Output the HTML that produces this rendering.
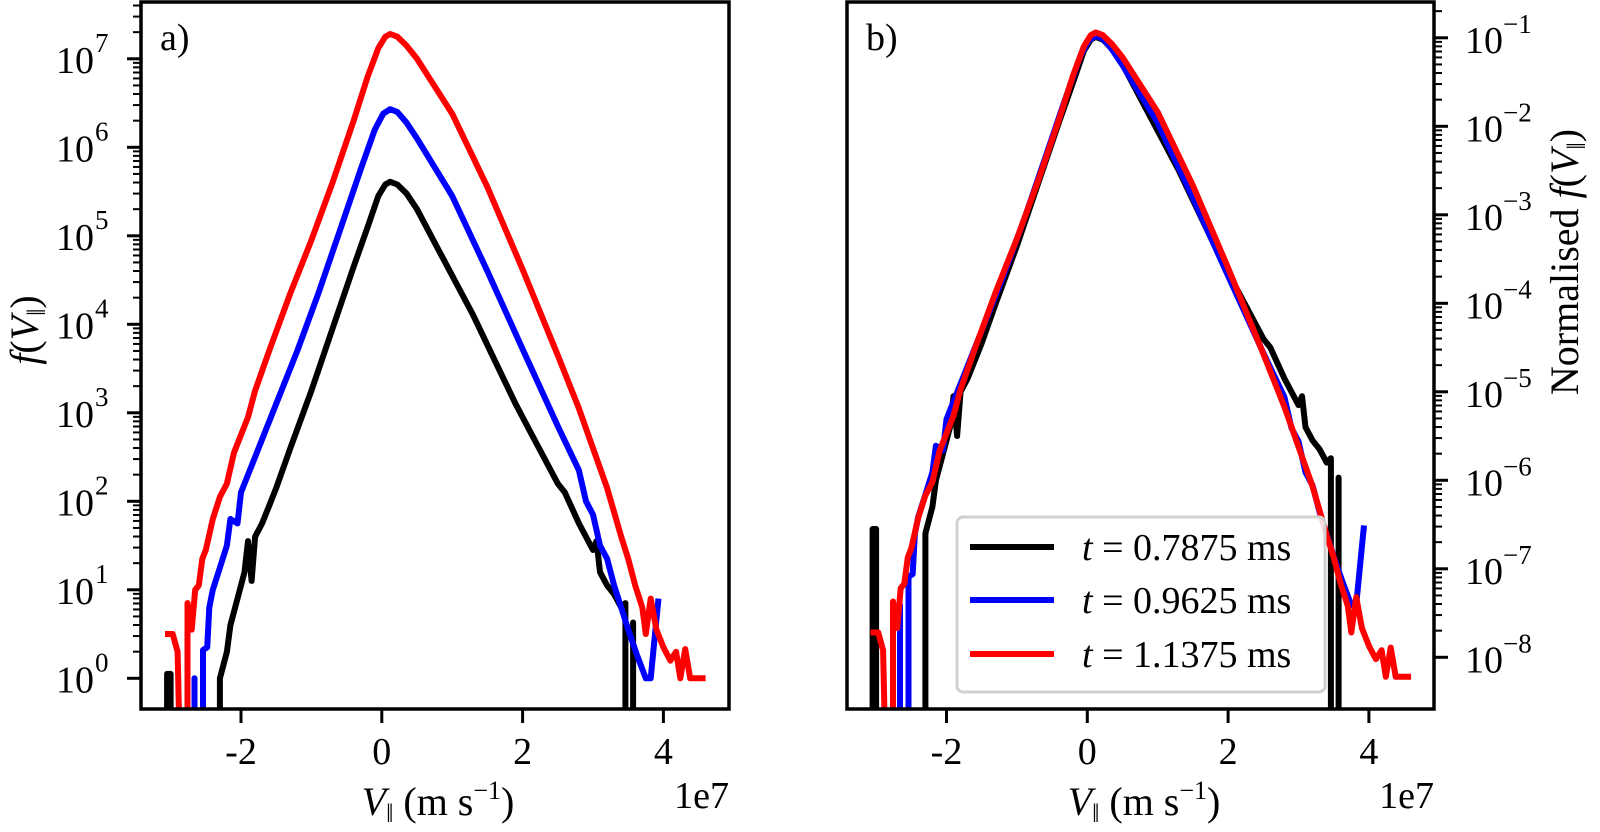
<!DOCTYPE html>
<html><head><meta charset="utf-8"><style>
html,body{margin:0;padding:0;background:#fff;}
svg{display:block;font-family:"Liberation Serif","DejaVu Serif",serif;}
</style></head><body>
<svg id="s" width="1600" height="832" xmlns="http://www.w3.org/2000/svg"></svg>
<script>
const S=document.getElementById('s');let h='';
const B=null;
const black=[[-3.05,B],[-3.05,0.05],[-3.0,0.05],[-3.0,B],null,
[-2.3,B],[-2.3,0],[-2.2,0.3],[-2.15,0.6],[-2.05,0.9],[-1.95,1.2],[-1.9,1.55],[-1.85,1.1],[-1.8,1.6],[-1.7,1.75],[-1.6,1.95],[-1.5,2.15],[-1.3,2.6],[-1.0,3.25],[-0.7,3.95],[-0.4,4.65],[-0.2,5.1],[-0.05,5.45],[0.05,5.58],[0.12,5.61],[0.22,5.58],[0.35,5.48],[0.5,5.3],[0.8,4.85],[1.0,4.55],[1.3,4.1],[1.6,3.6],[1.9,3.1],[2.1,2.8],[2.3,2.5],[2.5,2.2],[2.6,2.1],[2.8,1.75],[3.0,1.45],[3.05,1.55],[3.1,1.2],[3.2,1.05],[3.3,0.95],[3.4,0.8],[3.46,0.85],[3.46,B],null,[3.57,B],[3.57,0.63],[3.57,B]];
const blue=[[-2.66,B],[-2.66,0],[-2.66,B],null,[-2.54,B],[-2.54,0.32],[-2.48,0.35],[-2.45,0.8],[-2.4,1.0],[-2.3,1.25],[-2.2,1.5],[-2.15,1.8],[-2.05,1.75],[-2.0,2.1],[-1.9,2.3],[-1.8,2.5],[-1.65,2.8],[-1.5,3.1],[-1.2,3.7],[-0.9,4.35],[-0.6,5.05],[-0.3,5.75],[-0.1,6.2],[0.02,6.38],[0.12,6.43],[0.22,6.4],[0.35,6.28],[0.5,6.1],[1.0,5.45],[1.5,4.6],[2.0,3.72],[2.5,2.85],[2.8,2.35],[2.9,2.0],[3.0,1.85],[3.1,1.5],[3.2,1.35],[3.3,1.05],[3.4,0.8],[3.5,0.55],[3.63,0.25],[3.75,0],[3.82,0],[3.88,0.5],[3.93,0.9]];
const red=[[-3.08,0.5],[-2.97,0.5],[-2.9,0.3],[-2.88,B],null,[-2.76,B],[-2.76,0.85],[-2.7,0.55],[-2.65,1.0],[-2.6,1.05],[-2.55,1.35],[-2.5,1.45],[-2.4,1.8],[-2.3,2.05],[-2.2,2.2],[-2.1,2.55],[-2.0,2.75],[-1.9,2.95],[-1.8,3.25],[-1.6,3.7],[-1.3,4.35],[-1.0,4.95],[-0.7,5.6],[-0.4,6.3],[-0.2,6.8],[-0.05,7.12],[0.05,7.25],[0.12,7.28],[0.22,7.25],[0.35,7.15],[0.5,7.0],[1.0,6.38],[1.5,5.55],[2.0,4.62],[2.5,3.65],[2.8,3.05],[3.0,2.6],[3.2,2.15],[3.4,1.6],[3.5,1.35],[3.6,1.05],[3.7,0.8],[3.75,0.5],[3.82,0.9],[3.9,0.55],[4.0,0.35],[4.1,0.2],[4.18,0.3],[4.24,0],[4.31,0.33],[4.38,0],[4.6,0]];
function panel(x0,x1,zeroX,topY,botY,y0pix,ylog0,series){
 const X=v=>zeroX+70.4*v, Y=l=>y0pix-88.5*(l-ylog0);
 h+=`<clipPath id="c${x0}"><rect x="${x0}" y="${topY}" width="${x1-x0}" height="${botY-topY}"/></clipPath><g clip-path="url(#c${x0})">`;
 for(const [d,col,off] of series){
  let segs=[[]];for(const p of d){if(p===null){segs.push([]);continue;}segs[segs.length-1].push(p);}
  for(const s of segs){if(!s.length)continue;
   h+=`<polyline fill="none" stroke="${col}" stroke-width="6" stroke-linejoin="round" stroke-linecap="butt" points="${s.map(p=>X(p[0]).toFixed(1)+','+(p[1]===null?botY+5:Y(p[1]+off)).toFixed(1)).join(' ')}"/>`;}
 }
 h+='</g>';
 h+=`<rect x="${x0}" y="${topY}" width="${x1-x0}" height="${botY-topY}" fill="none" stroke="#000" stroke-width="3.5"/>`;
 for(const v of [-2,0,2,4]){const x=X(v);h+=`<line x1="${x}" y1="${botY}" x2="${x}" y2="${botY+14}" stroke="#000" stroke-width="3"/><text x="${x}" y="764" font-size="38" text-anchor="middle">${v}</text>`;}
 h+=`<text x="${x1}" y="808" font-size="38" text-anchor="end">1e7</text>`;
}
panel(141,729,381.8,2,709,678.3,0,[[black,'#000',0],[blue,'#00f',0],[red,'#f00',0]]);
panel(847,1434,1087.3,2,709,657.3,-8,[[black,'#000',-6.6],[blue,'#00f',-7.41],[red,'#f00',-8.22]]);
function yt(spx,dir,y0pix,lo,hi,lab){
 for(let d=lo;d<=hi;d++){for(let m=1;m<10;m++){const y=y0pix-88.5*(d-lo)-88.5*Math.log10(m);if(y<3||y>708)continue;
  const L=m==1?14:8;h+=`<line x1="${spx}" y1="${y}" x2="${spx+dir*L}" y2="${y}" stroke="#000" stroke-width="${m==1?3:2}"/>`;
  if(m==1&&d<=lab[1]&&d>=lab[0]){ if(dir<0) h+=`<text x="94" y="${y+14}" font-size="38" text-anchor="end">10</text><text x="95" y="${y-7}" font-size="27">${d}</text>`;
   else h+=`<text x="1465" y="${y+15}" font-size="38">10</text><text x="1503" y="${y-5}" font-size="27">−${-d}</text>`;}
 }}
}
yt(141,-1,678.3,0,7,[0,7]);
yt(1434,1,657.3,-8,-1,[-8,-1]);
h+=`<text x="160" y="50" font-size="38">a)</text><text x="866" y="50" font-size="38">b)</text>`;
h+=`<text transform="translate(38,330) rotate(-90)" font-size="40" text-anchor="middle"><tspan font-style="italic">f</tspan>(<tspan font-style="italic">V</tspan><tspan font-size="26" dy="7">‖</tspan><tspan dy="-7">)</tspan></text>`;
h+=`<text transform="translate(1578,262) rotate(-90)" font-size="40" text-anchor="middle">Normalised <tspan font-style="italic">f</tspan>(<tspan font-style="italic">V</tspan><tspan font-size="26" dy="7">‖</tspan><tspan dy="-7">)</tspan></text>`;
for(const cx of [438,1144]) h+=`<text x="${cx}" y="815" font-size="40" text-anchor="middle"><tspan font-style="italic">V</tspan><tspan font-size="26" dy="7">‖</tspan><tspan dy="-7">  (m s</tspan><tspan font-size="26" dy="-16">−1</tspan><tspan dy="16">)</tspan></text>`;
h+=`<rect x="957" y="517" width="368" height="175" rx="6" fill="#fff" fill-opacity="0.85" stroke="#d0d0d0" stroke-width="3"/>`;
[['#000','0.7875',547],['#00f','0.9625',600],['#f00','1.1375',654]].forEach(([c,t,y])=>{
 h+=`<line x1="970" y1="${y}" x2="1054" y2="${y}" stroke="${c}" stroke-width="6"/><text x="1082" y="${y+13}" font-size="38"><tspan font-style="italic">t</tspan> = ${t} ms</text>`;});
S.innerHTML=h;
</script>
</body></html>
